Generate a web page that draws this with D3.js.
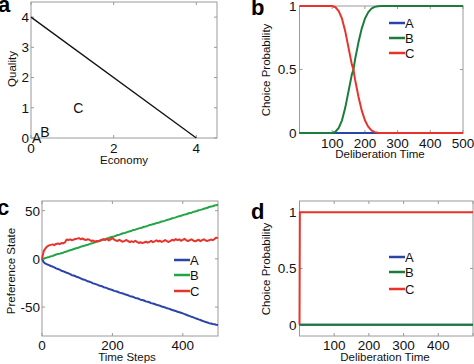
<!DOCTYPE html>
<html><head><meta charset="utf-8">
<script src="https://cdn.jsdelivr.net/npm/d3@7"></script>
<style>
body{margin:0;background:#fff;}
svg{display:block;font-family:"Liberation Sans",Arial,sans-serif;}
</style></head><body>
<script>
// ---------- Data ----------
// Panel a: attribute space
const pointNames = ["A","B","C"];
const pointEconomy = [0, 0.2, 1];
const pointQuality = [0, 0.2, 1];
const lineEconomy = [0, 4];
const lineQuality = [4, 0];
const aXTicks = [0, 2, 4];
const aYTicks = [0, 1, 2, 3, 4];

// Panel b: choice probability over deliberation time
const timeB = [0, 50, 100, 110, 120, 130, 140, 150, 160, 165, 170, 180, 190, 200, 210, 220, 230, 240, 250, 300, 400, 500];
const probB_A = [0, 0, 0, 0, 0, 0, 0, 0, 0, 0, 0, 0, 0, 0, 0, 0, 0, 0, 0, 0, 0, 0];
const probB_B = [0, 0, 0, 0.01, 0.04, 0.1, 0.2, 0.33, 0.46, 0.5, 0.58, 0.71, 0.82, 0.9, 0.95, 0.98, 0.993, 0.998, 1, 1, 1, 1];
const probB_C = [1, 1, 1, 0.99, 0.96, 0.9, 0.8, 0.67, 0.54, 0.5, 0.42, 0.29, 0.18, 0.1, 0.05, 0.02, 0.007, 0.002, 0, 0, 0, 0];

// Panel c: preference state over time steps (every 5 steps)
const prefA = [0,-3.5,-5,-5.8,-6.5,-7.4,-8.0,-8.8,-9.9,-10.5,-11.2,-12.3,-12.8,-13.6,-14.5,-15.0,-15.8,-16.9,-17.3,-18.0,-18.9,-19.4,-20.3,-21.2,-21.6,-22.4,-23.3,-23.8,-24.4,-25.4,-25.9,-26.5,-27.3,-27.9,-28.4,-29.4,-29.8,-30.4,-31.3,-31.7,-32.3,-33.2,-33.6,-34.1,-35.0,-35.5,-35.9,-36.8,-37.2,-37.8,-38.7,-39.0,-39.6,-40.5,-40.9,-41.4,-42.3,-42.6,-43.2,-44.1,-44.5,-45.0,-45.9,-46.3,-46.8,-47.7,-48.0,-48.6,-49.5,-49.9,-50.4,-51.3,-51.6,-52.3,-53.1,-53.5,-54.0,-54.9,-55.3,-55.9,-56.6,-57.3,-58.0,-58.8,-59.4,-60.1,-60.7,-61.5,-62.1,-62.8,-63.4,-64.2,-64.8,-65.5,-66.0,-66.7,-67.0,-67.6,-67.9,-68.3,-68.6];
const prefB = [0,0.3,0.8,1.5,2.0,2.6,3.0,3.8,4.5,5.0,5.3,5.9,6.4,7.2,7.6,8.5,9.0,9.4,10.2,10.8,11.3,11.8,12.6,13.0,13.5,14.2,14.6,15.3,16.0,16.4,17.1,17.8,18.2,18.8,19.5,19.9,20.5,21.2,21.6,22.4,23.0,23.3,24.0,24.8,25.1,25.8,26.5,26.8,27.5,28.2,28.6,29.2,30.0,30.3,30.9,31.6,32.0,32.5,33.3,33.6,34.2,35.0,35.3,35.9,36.4,37.1,37.5,38.0,38.8,39.1,39.7,40.4,40.8,41.3,42.1,42.5,43.0,43.8,44.2,44.6,45.4,45.9,46.3,47.0,47.6,47.9,48.7,49.2,49.6,50.4,50.8,51.3,52.0,52.5,53.0,53.8,54.2,54.6,55.3,55.7,56.0];
const prefC = [0,8,11,13,14,14.5,15,14.2,15.5,16,15.2,16.5,16,17,20,19.5,20.2,19.2,20,20.5,21,21.5,20.3,21.2,20,19.5,20.4,19.6,18.5,19,17.8,18.5,18.2,19,19.8,20.5,19.5,20.8,19,20.2,21.5,20,19,18.6,19.8,18.5,17.8,18.6,19.6,18.3,17.5,18.2,17.4,18.8,17.6,16.5,17.2,16.4,17,17.8,16.8,17.5,18.6,17.3,18.2,19.3,18.0,18.8,17.6,18.4,19.5,18.2,17.5,18.6,19.8,19,20.5,19.4,20.2,18.8,19.6,20.8,19.2,18.5,19.4,20.3,18.9,18.2,19,19.8,18.4,19.5,20.2,19.1,18.6,19.3,20,19.4,20.5,22,21.5];
const timeC = d3.range(0, 501, 5);
const cXTicks = [0, 200, 400];
const cYTicks = [-50, 0, 50];

// Panel d: choice probability over deliberation time
const timeD = [0, 1, 500];
const probD_A = [0, 0, 0];
const probD_B = [0, 0, 0];
const probD_C = [0, 1, 1];
const probTicks = [0, 0.5, 1];
const delibTicks = [100, 200, 300, 400, 500];
const delibTicksD = [100, 200, 300, 400];

const seriesNames = ["A", "B", "C"];

// ---------- Drawing ----------
const W = 474, H = 364;
const svg = d3.select("body").append("svg").attr("width", W).attr("height", H);
const BOX = "#9a9a9a";
const BLUE = "#2a44a8", GREEN_D = "#1b7d3a", GREEN_L = "#22a546", RED = "#e8332b";
const TICK_FS = 13.5, TITLE_FS = 11.5;

function frame(g, x, y, xt, yt, opts) {
  const [x0, x1] = x.range(), [y0, y1] = y.range(); // y0 bottom, y1 top
  const tl = 3;
  g.append("rect").attr("x", x0).attr("y", y1).attr("width", x1 - x0).attr("height", y0 - y1)
    .attr("fill", "none").attr("stroke", BOX).attr("stroke-width", 1);
  xt.forEach(v => {
    const px = x(v);
    g.append("line").attr("x1", px).attr("x2", px).attr("y1", y0).attr("y2", y0 - tl).attr("stroke", BOX);
    g.append("line").attr("x1", px).attr("x2", px).attr("y1", y1).attr("y2", y1 + tl).attr("stroke", BOX);
  });
  yt.forEach(v => {
    const py = y(v);
    g.append("line").attr("x1", x0).attr("x2", x0 + tl).attr("y1", py).attr("y2", py).attr("stroke", BOX);
    g.append("line").attr("x1", x1).attr("x2", x1 - tl).attr("y1", py).attr("y2", py).attr("stroke", BOX);
  });
  (opts.xLabels || xt).forEach(v => {
    g.append("text").attr("x", x(v)).attr("y", opts.xBase).attr("text-anchor", "middle")
      .attr("font-size", TICK_FS).attr("fill", "#111").text(v);
  });
  yt.forEach(v => {
    g.append("text").attr("x", x0 - opts.yGap).attr("y", y(v)).attr("dy", "0.36em")
      .attr("text-anchor", "end").attr("font-size", TICK_FS).attr("fill", "#111").text(v);
  });
  g.append("text").attr("x", opts.xTitle[0]).attr("y", opts.xTitle[1]).attr("text-anchor", "middle")
    .attr("font-size", TITLE_FS).attr("fill", "#111").text(opts.xTitle[2]);
  g.append("text").attr("transform", `translate(${opts.yTitle[0]},${opts.yTitle[1]}) rotate(-90)`)
    .attr("text-anchor", "middle").attr("font-size", TITLE_FS).attr("fill", "#111").text(opts.yTitle[2]);
  g.append("text").attr("x", opts.letter[0]).attr("y", opts.letter[1]).attr("font-size", 22)
    .attr("font-weight", "bold").attr("fill", "#000").text(opts.letter[2]);
}

function legend(g, x0, ys, colors) {
  seriesNames.forEach((n, i) => {
    g.append("line").attr("x1", x0).attr("x2", x0 + 16).attr("y1", ys[i]).attr("y2", ys[i])
      .attr("stroke", colors[i]).attr("stroke-width", 2.5);
    g.append("text").attr("x", x0 + 16).attr("y", ys[i]).attr("dy", "0.36em")
      .attr("font-size", 13).attr("fill", "#111").text(n);
  });
}

function drawSeries(g, x, y, xs, ys, color, w) {
  const line = d3.line().x((d, i) => x(xs[i])).y(d => y(d));
  g.append("path").datum(ys).attr("d", line).attr("fill", "none")
    .attr("stroke", color).attr("stroke-width", w).attr("stroke-linejoin", "round");
}

// Panel a
{
  const g = svg.append("g");
  const x = d3.scaleLinear().domain([0, 4.5]).range([31, 217]);
  const y = d3.scaleLinear().domain([0, 4.5]).range([138, 2]);
  frame(g, x, y, aXTicks, aYTicks, {xBase: 153, yGap: 2,
    xTitle: [124, 164, "Economy"], yTitle: [16, 69, "Quality"], letter: [-2, 12, "a"]});
  const line = d3.line().x((d, i) => x(lineEconomy[i])).y(d => y(d));
  g.append("path").datum(lineQuality).attr("d", line).attr("stroke", "#111")
    .attr("stroke-width", 1.3).attr("fill", "none");
  pointNames.forEach((n, i) => {
    g.append("text").attr("x", x(pointEconomy[i]) + 1).attr("y", y(pointQuality[i])).attr("dy", "0.36em")
      .attr("font-size", 14).attr("fill", "#111").text(n);
  });
}

// Panel b
{
  const g = svg.append("g");
  const x = d3.scaleLinear().domain([0, 500]).range([299.5, 463]);
  const y = d3.scaleLinear().domain([0, 1]).range([133, 6]);
  frame(g, x, y, delibTicks, probTicks, {xBase: 148, yGap: 3,
    xTitle: [380, 158, "Deliberation Time"], yTitle: [270, 70, "Choice Probability"], letter: [251, 15, "b"]});
  drawSeries(g, x, y, timeB, probB_A, BLUE, 2);
  drawSeries(g, x, y, timeB, probB_B, GREEN_D, 2);
  drawSeries(g, x, y, timeB, probB_C, RED, 2);
  legend(g, 389, [23, 38, 53], [BLUE, GREEN_D, RED]);
}

// Panel c
{
  const g = svg.append("g");
  const x = d3.scaleLinear().domain([0, 500]).range([42, 218]);
  const y = d3.scaleLinear().domain([-80, 60]).range([336, 201]);
  frame(g, x, y, cXTicks, cYTicks, {xBase: 350, yGap: 2,
    xTitle: [127, 361, "Time Steps"], yTitle: [15, 271, "Preference State"], letter: [-3, 215, "c"]});
  drawSeries(g, x, y, timeC, prefA, BLUE, 2);
  drawSeries(g, x, y, timeC, prefB, GREEN_L, 2);
  drawSeries(g, x, y, timeC, prefC, RED, 2);
  legend(g, 174, [260, 275, 291], [BLUE, GREEN_L, RED]);
}

// Panel d
{
  const g = svg.append("g");
  const x = d3.scaleLinear().domain([0, 500]).range([299.5, 473]);
  const y = d3.scaleLinear().domain([-0.1, 1.1]).range([336, 201]);
  frame(g, x, y, delibTicks, probTicks, {xBase: 350, yGap: 3, xLabels: delibTicksD,
    xTitle: [385, 361, "Deliberation Time"], yTitle: [270, 269, "Choice Probability"], letter: [251, 219, "d"]});
  drawSeries(g, x, y, timeD, probD_A, BLUE, 2);
  drawSeries(g, x, y, timeD, probD_B, GREEN_D, 2);
  drawSeries(g, x, y, timeD, probD_C, RED, 2);
  legend(g, 389, [257, 272, 289], [BLUE, GREEN_D, RED]);
}
</script>
</body></html>
